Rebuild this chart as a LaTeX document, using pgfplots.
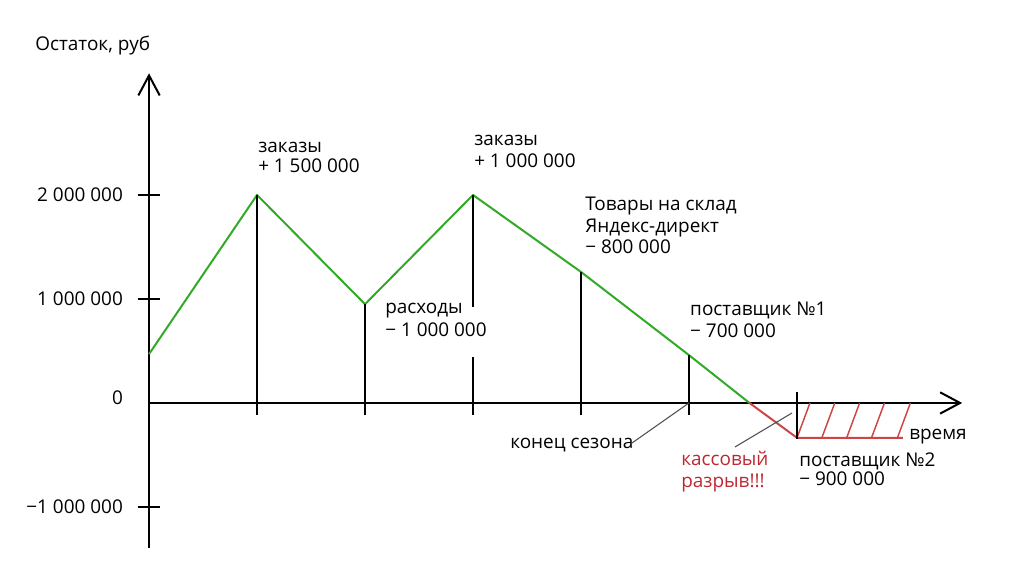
\documentclass[border=0pt]{standalone}
\usepackage{fontspec}
\setmainfont{Open Sans}
\usepackage{pgfplots}
\pgfplotsset{compat=1.18}
\usetikzlibrary{arrows.meta}

\definecolor{flowgreen}{RGB}{50,170,40}
\definecolor{gapred}{RGB}{205,70,70}
\definecolor{gaptext}{RGB}{190,40,50}
\definecolor{pointer}{RGB}{80,80,80}

% one text line, left edge and baseline in axis units
\newcommand{\lbl}[3]{\node[anchor=base west, inner sep=0pt] at (axis cs:#1,#2) {#3};}

\begin{document}
\begin{tikzpicture}[font=\fontsize{14.2pt}{17pt}\selectfont]
\begin{axis}[
    x=81pt, y=78pt,
    xmin=0, xmax=7.53,
    ymin=-1.39, ymax=3.17,
    axis lines=middle,
    axis line style={line width=1.5pt, -{Straight Barb[length=15pt, width=16pt]}},
    xtick=\empty,
    ytick={-1,1,2},
    yticklabels={},
    tick align=center,
    major tick length=17pt,
    tick style={black, line width=1.5pt},
    clip=false,
]
% picture frame, 1024 x 588 px
\path (axis cs:-1.38,-1.779) rectangle (axis cs:8.102,3.875);

% balance over time
\addplot[flowgreen, line width=1.5pt, line join=round] coordinates {
    (0,0.47) (1,2) (2,0.95) (3,2) (4,1.26) (5,0.46) (5.56,0)
};
\addplot[gapred, line width=1.5pt, line join=round] coordinates {
    (5.56,0) (6,-0.335) (6.98,-0.335)
};

% hatching of the cash gap
\addplot[gapred, line width=1.1pt] coordinates {(6.12,0) (6.00,-0.335)};
\addplot[gapred, line width=1.1pt] coordinates {(6.35,0) (6.23,-0.335)};
\addplot[gapred, line width=1.1pt] coordinates {(6.58,0) (6.46,-0.335)};
\addplot[gapred, line width=1.1pt] coordinates {(6.81,0) (6.69,-0.335)};
\addplot[gapred, line width=1.1pt] coordinates {(7.05,0) (6.93,-0.335)};

% event markers
\addplot[black, line width=1.5pt] coordinates {(1,2) (1,-0.115)};
\addplot[black, line width=1.5pt] coordinates {(2,0.95) (2,-0.115)};
\addplot[black, line width=1.5pt] coordinates {(3,2) (3,0.92)};
\addplot[black, line width=1.5pt] coordinates {(3,0.44) (3,-0.115)};
\addplot[black, line width=1.5pt] coordinates {(4,1.26) (4,-0.115)};
\addplot[black, line width=1.5pt] coordinates {(5,0.46) (5,-0.115)};
\addplot[black, line width=1.5pt] coordinates {(6,0.11) (6,-0.35)};

% pointers
\addplot[pointer, line width=0.8pt] coordinates {(4.472,-0.385) (5.0,0)};
\addplot[pointer, line width=0.8pt] coordinates {(5.426,-0.423) (5.954,-0.096)};

% y tick labels
\node[anchor=east, inner sep=0pt] at (axis cs:-0.24,2) {2 000 000};
\node[anchor=east, inner sep=0pt] at (axis cs:-0.24,1) {1 000 000};
\node[anchor=east, inner sep=0pt] at (axis cs:-0.24,0.05) {0};
\node[anchor=east, inner sep=0pt] at (axis cs:-0.24,-1) {−1 000 000};

% texts
\lbl{-1.056}{3.385}{Остаток, руб}
\lbl{1.009}{2.413}{заказы}
\lbl{1.009}{2.212}{+ 1 500 000}
\lbl{3.009}{2.471}{заказы}
\lbl{3.009}{2.269}{+ 1 000 000}
\lbl{4.037}{1.846}{Товары на склад}
\lbl{4.037}{1.644}{Яндекс-директ}
\lbl{4.037}{1.442}{− 800 000}
\lbl{2.185}{0.856}{расходы}
\lbl{2.185}{0.635}{− 1 000 000}
\lbl{5.009}{0.837}{поставщик №1}
\lbl{5.009}{0.625}{− 700 000}
\lbl{3.343}{-0.433}{конец сезона}
\lbl{4.926}{-0.606}{\color{gaptext}кассовый}
\lbl{4.926}{-0.808}{\color{gaptext}разрыв!!!}
\lbl{6.019}{-0.615}{поставщик №2}
\lbl{6.019}{-0.798}{− 900 000}
\lbl{7.037}{-0.356}{время}
\end{axis}
\end{tikzpicture}
\end{document}
